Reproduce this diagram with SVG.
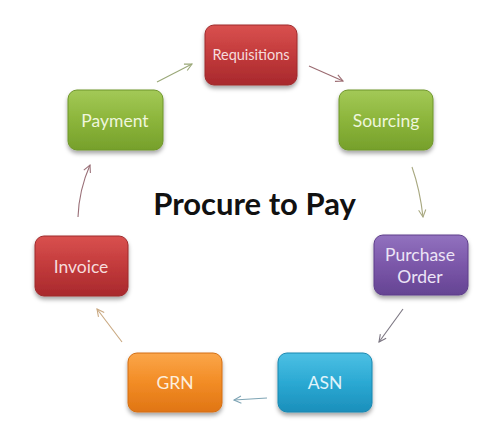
<svg xmlns="http://www.w3.org/2000/svg" width="500" height="439" viewBox="0 0 500 439">
<defs>
<linearGradient id="gRed" x1="0" y1="0" x2="0" y2="1"><stop offset="0" stop-color="#d9514f"/><stop offset="0.5" stop-color="#c23a3b"/><stop offset="1" stop-color="#a8292c"/></linearGradient>
<linearGradient id="gGreen" x1="0" y1="0" x2="0" y2="1"><stop offset="0" stop-color="#a3c957"/><stop offset="0.5" stop-color="#8cb53b"/><stop offset="1" stop-color="#76a02b"/></linearGradient>
<linearGradient id="gPurple" x1="0" y1="0" x2="0" y2="1"><stop offset="0" stop-color="#9272bf"/><stop offset="0.5" stop-color="#7b57a9"/><stop offset="1" stop-color="#654493"/></linearGradient>
<linearGradient id="gBlue" x1="0" y1="0" x2="0" y2="1"><stop offset="0" stop-color="#4dc0e4"/><stop offset="0.5" stop-color="#2ba9d3"/><stop offset="1" stop-color="#1b8fbb"/></linearGradient>
<linearGradient id="gOrange" x1="0" y1="0" x2="0" y2="1"><stop offset="0" stop-color="#fba64a"/><stop offset="0.5" stop-color="#f28c25"/><stop offset="1" stop-color="#e07514"/></linearGradient>
<filter id="sh" x="-20%" y="-20%" width="140%" height="150%"><feDropShadow dx="0" dy="3" stdDeviation="2" flood-color="#000" flood-opacity="0.35"/></filter>
<marker id="ah" viewBox="0 0 10 10" refX="9" refY="5" markerWidth="9" markerHeight="9" markerUnits="userSpaceOnUse" orient="auto"><path d="M1,1 L9,5 L1,9" fill="none" stroke="context-stroke" stroke-width="1.2"/></marker>
</defs>
<style>
.box{stroke-width:1;filter:url(#sh)}
.lbl{font-family:Lato,"Open Sans","Liberation Sans",sans-serif;font-size:17.5px;text-anchor:middle;dominant-baseline:central}
.con{fill:none;stroke-width:1.1;marker-end:url(#ah)}
</style>
<rect width="500" height="439" fill="#ffffff"/>
<g id="connectors">
<path class="con" d="M157,82 L192,64" stroke="#9aa878"/>
<path class="con" d="M309,66 L343,81" stroke="#9a6a70"/>
<path class="con" d="M412,167 Q420,190 423,217" stroke="#a8a880"/>
<path class="con" d="M403,309 L379,342" stroke="#7a7480"/>
<path class="con" d="M267,398 L234,400" stroke="#7fa5b5"/>
<path class="con" d="M122,342 L97,309" stroke="#c9a880"/>
<path class="con" d="M78,217 Q79,190 90,165" stroke="#9a7078"/>
</g>
<g id="requisitions">
<rect class="box" x="205" y="25" width="92" height="60" rx="9" fill="url(#gRed)" stroke="#9e2a2c"/>
<text class="lbl" x="251" y="54" fill="#f6dcdc" style="font-size:14.5px">Requisitions</text>
</g>
<g id="sourcing">
<rect class="box" x="339" y="90" width="94" height="60" rx="9" fill="url(#gGreen)" stroke="#6f962a"/>
<text class="lbl" x="386" y="120" fill="#eef6dc">Sourcing</text>
</g>
<g id="purchase-order">
<rect class="box" x="374" y="235" width="94" height="60" rx="9" fill="url(#gPurple)" stroke="#5e3f8a"/>
<text class="lbl" x="420" y="254" fill="#ece4f6">Purchase</text>
<text class="lbl" x="420" y="276" fill="#ece4f6">Order</text>
</g>
<g id="asn">
<rect class="box" x="278" y="353" width="94" height="59" rx="9" fill="url(#gBlue)" stroke="#1a87b0"/>
<text class="lbl" x="325" y="382" fill="#e0f4fb">ASN</text>
</g>
<g id="grn">
<rect class="box" x="128" y="353" width="94" height="59" rx="9" fill="url(#gOrange)" stroke="#d46e12"/>
<text class="lbl" x="175" y="382" fill="#fdeedd">GRN</text>
</g>
<g id="invoice">
<rect class="box" x="35" y="236" width="93" height="60" rx="9" fill="url(#gRed)" stroke="#9e2a2c"/>
<text class="lbl" x="81" y="266" fill="#f6dcdc">Invoice</text>
</g>
<g id="payment">
<rect class="box" x="68" y="90" width="95" height="60" rx="9" fill="url(#gGreen)" stroke="#6f962a"/>
<text class="lbl" x="115" y="120" fill="#eef6dc">Payment</text>
</g>
<text x="254.5" y="215" font-family="Lato,'Open Sans','Liberation Sans',sans-serif" font-weight="bold" font-size="31" text-anchor="middle" fill="#111111">Procure to Pay</text>
</svg>
